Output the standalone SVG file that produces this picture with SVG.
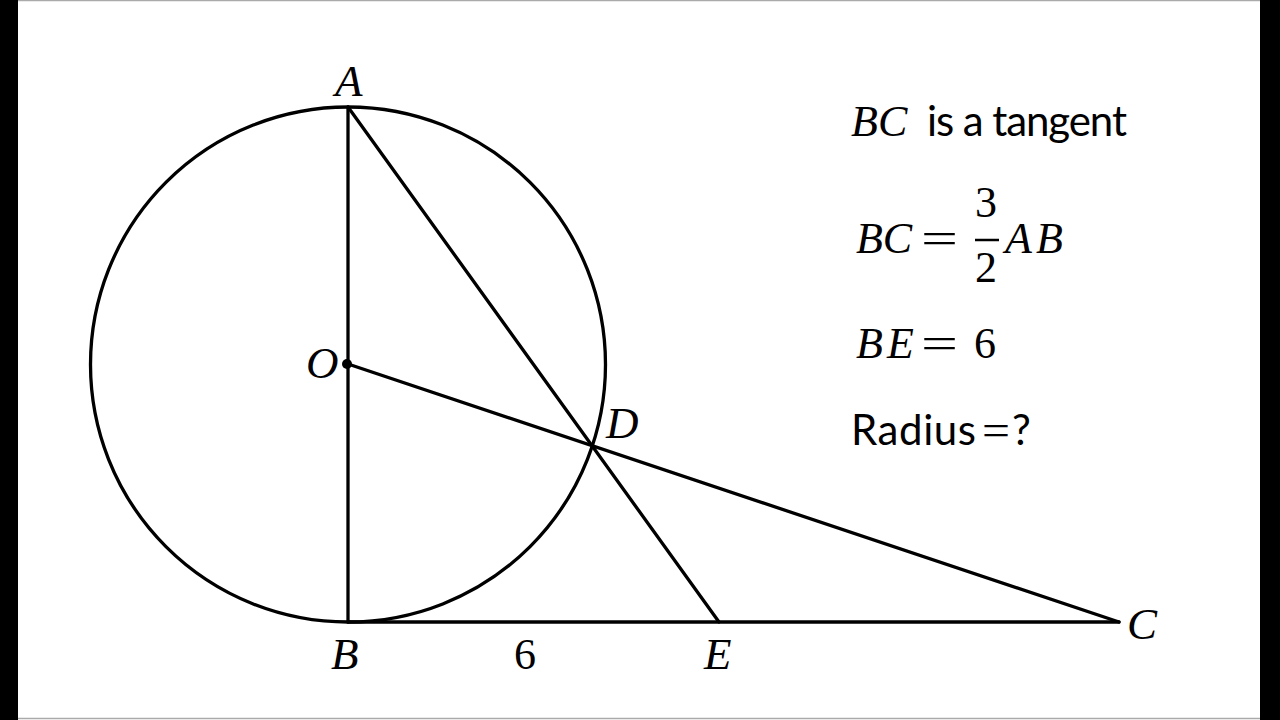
<svg xmlns="http://www.w3.org/2000/svg" width="1280" height="720" viewBox="0 0 1280 720">
<style>
.ln{stroke:#000;stroke-width:3.3;fill:none;stroke-linecap:round}
.lbl{font-family:"Liberation Serif","DejaVu Serif",serif;font-style:italic;font-size:45px;fill:#000}
.mi{font-family:"Liberation Serif","DejaVu Serif",serif;font-style:italic;font-size:44px;fill:#000}
.mn{font-family:"Liberation Serif","DejaVu Serif",serif;font-size:44px;fill:#000}
.tx{font-family:Lato,"Liberation Sans",sans-serif;font-size:42px;fill:#000}
</style>
<rect x="0" y="0" width="1280" height="720" fill="#fff"/>
<rect x="0" y="0" width="18" height="720" fill="#000"/>
<rect x="1260" y="0" width="20" height="720" fill="#000"/>
<line x1="18" y1="0.5" x2="1260" y2="0.5" stroke="#aaa" stroke-width="1.5"/>
<line x1="18" y1="718.5" x2="1260" y2="718.5" stroke="#aaa" stroke-width="1.5"/>

<g id="circle"><circle class="ln" cx="348" cy="364.5" r="257.5"/></g>

<g id="connectors">
<line class="ln" x1="348" y1="107" x2="348" y2="622"/>
<line class="ln" x1="348" y1="622" x2="1119" y2="622"/>
<line class="ln" x1="348" y1="107" x2="719" y2="622"/>
<line class="ln" x1="348" y1="364" x2="1119" y2="622"/>
</g>

<g id="node-A"><text class="lbl" x="335" y="96">A</text></g>
<g id="node-O"><circle cx="347" cy="364" r="5" fill="#000"/><text class="lbl" x="306" y="378">O</text></g>
<g id="node-D"><text class="lbl" x="606" y="438">D</text></g>
<g id="node-B"><text class="lbl" x="331" y="669">B</text></g>
<g id="node-E"><text class="lbl" x="704" y="669">E</text></g>
<g id="node-C"><text class="lbl" x="1127" y="639">C</text></g>
<g id="label-6"><text class="mn" x="514" y="669">6</text></g>

<g id="given">
<text class="mi" x="851" y="136">BC</text>
<text class="tx" x="927" y="136" textLength="200">is a tangent</text>
<text class="mi" x="856" y="253" textLength="56">BC</text>
<text class="mn" x="921" y="253" textLength="37" lengthAdjust="spacingAndGlyphs">=</text>
<text class="mn" x="975" y="217">3</text>
<line x1="975" y1="240" x2="999" y2="240" stroke="#000" stroke-width="2.5"/>
<text class="mn" x="975" y="282">2</text>
<text class="mi" x="1005" y="253" textLength="58">AB</text>
<text class="mi" x="856" y="358" textLength="58">BE</text>
<text class="mn" x="921" y="358" textLength="37" lengthAdjust="spacingAndGlyphs">=</text>
<text class="mn" x="974" y="358">6</text>
<text class="tx" x="851" y="445" textLength="125">Radius</text>
<text class="mn" x="982" y="445" textLength="28" lengthAdjust="spacingAndGlyphs">=</text>
<text class="tx" x="1012" y="445">?</text>
</g>
</svg>
